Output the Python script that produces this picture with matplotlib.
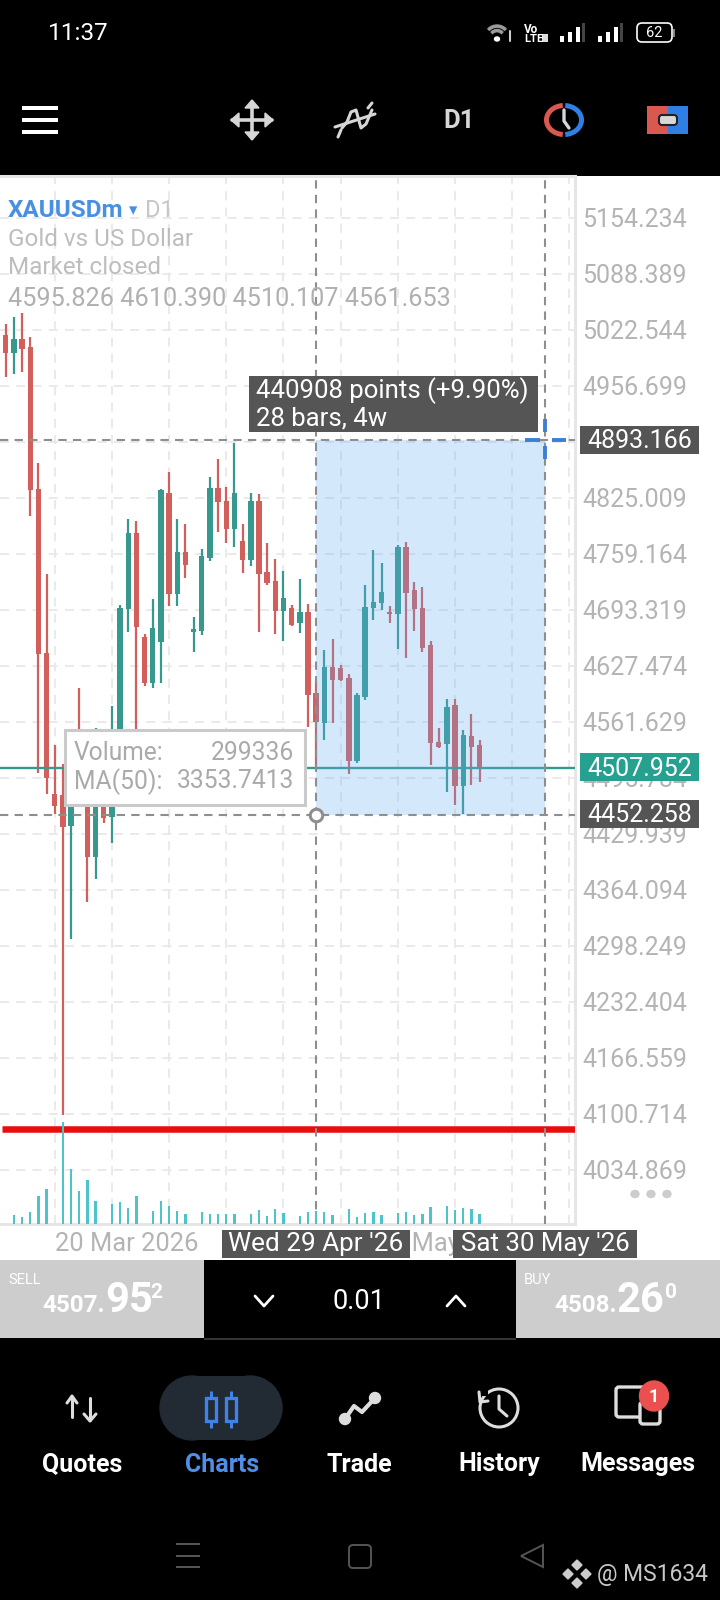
import matplotlib
matplotlib.use('Agg')
import matplotlib.pyplot as plt
from matplotlib.patches import Rectangle, Ellipse, Wedge, Polygon, FancyBboxPatch, Arc
import numpy as np

plt.rcParams['font.family'] = ['Roboto', 'DejaVu Sans']

# candles, oldest first
opens = [5016.6, 4995.4, 5011.9, 5002.6, 4835.6, 4642.8, 4476.9, 4476.0, 4439.3, 4516.9,
         4505.2, 4402.9, 4481.6, 4449.9, 4516.9, 4694.5, 4783.9, 4661.6, 4607.5, 4655.7,
         4830.8, 4712.0, 4761.5, 4667.5, 4669.1, 4754.5, 4836.8, 4821.5, 4788.6, 4774.5,
         4752.1, 4821.5, 4738.0, 4727.4, 4692.2, 4695.7, 4678.0, 4691.0, 4595.826, 4560.5,
         4626.3, 4625.1, 4613.4, 4515.8, 4591.0, 4695.7, 4701.6, 4691.0, 4688.6, 4767.4,
         4716.9, 4695.7, 4652.2, 4538.1, 4535.7, 4581.6, 4486.4, 4545.2, 4534.6]
highs = [5029.5, 5037.8, 5042.5, 5014.2, 4866.2, 4735.5, 4534.5, 4512.0, 4505.0, 4601.6,
         4528.7, 4554.6, 4505.2, 4580.4, 4699.2, 4800.4, 4798.0, 4665.1, 4706.3, 4835.6,
         4855.6, 4800.4, 4794.5, 4685.1, 4765.1, 4849.7, 4870.9, 4838.0, 4889.6, 4794.5,
         4830.9, 4829.8, 4772.1, 4753.3, 4739.2, 4699.2, 4729.6, 4700.4, 4610.390, 4646.3,
         4659.2, 4628.6, 4618.1, 4595.7, 4722.7, 4763.9, 4748.6, 4698.0, 4769.8, 4773.3,
         4726.3, 4719.8, 4656.9, 4554.6, 4588.7, 4588.7, 4552.2, 4571.0, 4540.5]
lows = [4967.1, 4970.6, 4973.0, 4803.8, 4501.7, 4476.9, 4453.4, 4099.6, 4306.5, 4469.9,
        4349.9, 4377.6, 4442.9, 4419.3, 4505.2, 4667.5, 4540.5, 4604.0, 4601.6, 4607.5,
        4698.0, 4698.0, 4730.8, 4644.0, 4664.0, 4751.0, 4785.0, 4772.1, 4767.4, 4736.8,
        4745.0, 4667.5, 4722.7, 4665.1, 4656.9, 4674.5, 4666.3, 4555.8, 4510.107, 4540.5,
        4560.5, 4609.8, 4500.5, 4513.4, 4587.5, 4681.6, 4693.3, 4678.0, 4647.5, 4636.9,
        4668.7, 4644.0, 4511.0, 4531.0, 4479.3, 4464.0, 4453.4, 4487.5, 4491.0]
closes = [4995.4, 5011.9, 5000.2, 4834.4, 4641.6, 4495.8, 4462.8, 4438.1, 4481.6, 4481.6,
          4402.9, 4481.6, 4448.7, 4505.2, 4695.7, 4783.9, 4673.4, 4607.5, 4672.2, 4834.4,
          4712.0, 4761.5, 4746.3, 4671.0, 4757.0, 4836.8, 4820.3, 4788.6, 4830.9, 4752.1,
          4821.5, 4735.6, 4725.0, 4692.2, 4707.5, 4675.7, 4691.0, 4593.4, 4561.653, 4626.3,
          4611.0, 4611.0, 4515.8, 4593.4, 4696.9, 4702.7, 4714.5, 4688.6, 4767.4, 4713.3,
          4694.5, 4648.7, 4536.9, 4532.2, 4579.3, 4486.4, 4546.3, 4532.2, 4507.952]
# tick volume, in thousands
volumes = [0, 26, 20, 35, 82, 103, 0, 299, 161, 97,
           129, 68, 0, 59, 65, 47, 82, 0, 38, 68,
           53, 38, 29, 0, 35, 29, 29, 29, 29, 0,
           29, 41, 23, 44, 32, 0, 23, 35, 38, 35,
           26, 0, 44, 21, 32, 35, 26, 0, 32, 35,
           26, 29, 50, 0, 53, 41, 47, 44, 29]

price_ticks = [5154.234, 5088.389, 5022.544, 4956.699, 4890.854, 4825.009, 4759.164, 4693.319, 4627.474,
               4561.629, 4495.784, 4429.939, 4364.094, 4298.249, 4232.404, 4166.559, 4100.714, 4034.869]
time_grid = [6, 13, 20, 27, 34, 41, 48, 55, 62, 69]
time_labels = [(6, '20 Mar 2026'), (47.2, '8 May 2026')]

bid = 4507.952
cross_high = 4893.166
cross_low = 4452.258
cross_start = 38
cross_end = 66
red_level = 4083.1

RED = '#d25f5c'
TEAL = '#37998d'
GREY = '#b4b4b4'
BOX = '#555555'
W, H = 720, 1600

fig = plt.figure(figsize=(7.2, 16), dpi=100, facecolor='black')


def px_axes(left, top, right, bottom, **kw):
    return fig.add_axes([left / W, 1 - bottom / H, (right - left) / W, (bottom - top) / H], **kw)


# white chart panel with its price column
panel = px_axes(0, 176, 720, 1260, zorder=0)
panel.set_axis_off()
panel.add_patch(Rectangle((0, 0), 1, 1, transform=panel.transAxes, color='white'))

ax = px_axes(0, 176, 575, 1224, zorder=1)
ax.patch.set_alpha(0)
ax.set_xlim(-0.698, 69.68)
ax.set_ylim(5410.56 - 1.17581 * 1224, 5410.56 - 1.17581 * 176)

# volume histogram shares the same x
vol = ax.twinx()
vol.set_ylim(0, 299 * 1048 / 102)
vol.set_axis_off()
x = np.arange(len(volumes))
vol.bar(x, volumes, width=0.28, color='#4cc3cd', zorder=2)

for s in ax.spines.values():
    s.set_visible(False)
for s in ['right', 'bottom', 'top']:
    ax.spines[s].set_visible(True)
    ax.spines[s].set_color('#e6e6e6')
    ax.spines[s].set_linewidth(2.2)
ax.yaxis.tick_right()
ax.set_yticks(price_ticks)
ax.set_yticklabels(['%.3f' % v for v in price_ticks], fontsize=18, color=GREY)
ax.tick_params(axis='y', length=0, pad=5.5)
ax.set_xticks(time_grid)
ax.set_xticklabels([])
ax.tick_params(axis='x', length=0)
ax.grid(True, color='#e8e8e8', lw=1.3, ls=(0, (5, 4)))
ax.set_axisbelow(True)
for t, s in time_labels:
    ax.text(t, -20 / 1048, s, transform=ax.get_xaxis_transform(), fontsize=18.4, color=GREY, ha='left', va='center')

x = np.arange(len(opens))
colors = [RED if c < o else TEAL for o, c in zip(opens, closes)]
ax.vlines(x, lows, highs, colors=colors, lw=1.6, zorder=3)
for i in x:
    top = max(opens[i], closes[i])
    bottom = min(opens[i], closes[i])
    ax.bar(i, top - bottom, bottom=bottom, width=0.66, color=colors[i], zorder=3)

ax.axhline(bid, color=TEAL, lw=1.7, zorder=4)
ax.axhline(red_level, color='#e80e0e', lw=4.7, zorder=5, xmin=0.003, solid_capstyle='butt')

# measure tool on top of the candles
ax.fill_between([cross_start, cross_end], cross_low, cross_high, color='#62acf2', alpha=0.27, lw=0, zorder=6)
ax.axhline(cross_high, color='#8e8e8e', lw=1.5, ls=(0, (4, 3)), zorder=7)
ax.axhline(cross_low, color='#8e8e8e', lw=1.5, ls=(0, (4, 3)), zorder=7)
ax.axvline(cross_start, color='#8e8e8e', lw=1.5, ls=(0, (4, 3)), zorder=7)
ax.axvline(cross_end, color='#8e8e8e', lw=1.5, ls=(0, (4, 3)), zorder=7)
ax.plot([cross_start], [cross_low], 'o', ms=9, mfc='white', mec='#8e8e8e', mew=2.2, zorder=8)

# everything else is screen furniture, in pixels
ui = px_axes(0, 0, W, H, zorder=5)
ui.set_xlim(0, W)
ui.set_ylim(H, 0)
ui.set_axis_off()
ui.patch.set_alpha(0)


def text(tx, ty, s, size=17.6, color=GREY, ha='left', va='center', weight='normal', **kw):
    if va == 'center':
        ty = ty + 1.5
    return ui.text(tx, ty, s, fontsize=size, color=color, ha=ha, va=va, fontweight=weight, **kw)


def rect(l, t, r, b, color, z=1, **kw):
    ui.add_patch(Rectangle((l, t), r - l, b - t, facecolor=color, edgecolor=kw.pop('ec', 'none'), zorder=z, **kw))


def stroke(xs, ys, color='white', lw=2, **kw):
    ui.plot(xs, ys, color=color, lw=lw, solid_capstyle=kw.pop('cap', 'round'), **kw)


# status bar
text(48, 32, '11:37', size=17.5, color='white')
for r in [13, 8.5]:
    ui.add_patch(Wedge((497, 38), r, 225, 315, width=2.2, color='#9a9a9a'))
ui.add_patch(Ellipse((497, 39), 5, 4, color='white'))
stroke([510, 510], [31, 41], color='#cccccc', lw=1.5)
text(524, 28, 'Vo', size=8.5, color='white', weight='bold')
text(524, 37, 'LTE', size=8, color='white', weight='bold')
rect(542, 34, 548, 42, '#dddddd')
for base in [560, 598]:
    for k, h in enumerate([6, 10, 15]):
        rect(base + k * 8, 42 - h, base + k * 8 + 4, 42, 'white')
    rect(base + 22, 23, base + 25, 42, '#444444')
ui.add_patch(FancyBboxPatch((638, 24), 33, 17, boxstyle='round,pad=1,rounding_size=5', fc='none', ec='white', lw=1.2))
text(654.5, 31.5, '62', size=10.5, color='white', ha='center')
rect(673, 29, 675, 37, '#888888')

# toolbar
for y0 in [108, 120, 132]:
    rect(22, y0 - 2, 58, y0 + 2, 'white')
c = '#d6d6d6'
stroke([232, 272], [120, 120], color=c, lw=2.6)
stroke([252, 252], [102, 138], color=c, lw=2.6)
ui.add_patch(Polygon([[252, 100], [245, 108], [259, 108]], color=c))
ui.add_patch(Polygon([[252, 140], [245, 132], [259, 132]], color=c))
ui.add_patch(Polygon([[231, 120], [239, 113], [239, 127]], color=c))
ui.add_patch(Polygon([[273, 120], [265, 113], [265, 127]], color=c))
stroke([342, 347, 351, 356, 361, 366, 372], [128, 122, 112, 110, 128, 124, 110], color=c, lw=2.2)
stroke([335, 375], [127, 114], color=c, lw=2.2)
stroke([338, 341], [137, 130], color=c, lw=2.2)
stroke([368, 372], [108, 103], color=c, lw=2.2)
text(459, 119, 'D1', size=18.5, color=c, ha='center', weight='bold')
ui.add_patch(Arc((564, 120), 35, 29, theta1=95, theta2=265, ec='#d9584f', lw=3.6))
ui.add_patch(Arc((564, 120), 35, 29, theta1=-85, theta2=85, ec='#2f7fe6', lw=3.6))
stroke([564, 564, 569], [110, 121, 128], color=c, lw=2.4, zorder=3)
rect(647, 106, 668, 134, '#d9584f', z=2)
rect(668, 106, 688, 134, '#2f7fe6', z=2)
ui.add_patch(FancyBboxPatch((660, 116), 16, 8, boxstyle='round,pad=1,rounding_size=3', fc='#d8d8d8', ec='#222222', lw=1.5, zorder=3))

# chart legend
text(8, 209, 'XAUUSDm', size=17.5, color='#4a90e2', weight='bold')
text(129, 209, '▾', size=12, color='#4a90e2', family=['DejaVu Sans'])
text(145, 209, 'D1', size=17, color='#c6c6c6')
text(8, 238, 'Gold vs US Dollar', size=17.5, color='#bdbdbd')
text(8, 266, 'Market closed', size=17.5, color='#bdbdbd')
text(8, 297, '%.3f %.3f %.3f %.3f' % (opens[38], highs[38], lows[38], closes[38]), size=18.2, color='#b0b0b0')

# measure info box
rect(249, 376, 538, 432, BOX, z=3)
text(256, 389, '440908 points (+9.90%)', size=18.5, color='white', zorder=4)
text(256, 417, '28 bars, 4w', size=18.5, color='white', zorder=4)

# blue cross at the end of the measure
for xs, ys in [([525, 540], [440, 440]), ([552, 566], [440, 440]), ([545, 545], [419, 432]), ([545, 545], [446, 459])]:
    stroke(xs, ys, color='#3d7fd4', lw=2.8, cap='butt', zorder=4)

# indicator tooltip
rect(64.5, 729.5, 304.5, 804.5, 'white', z=6, ec='#cacaca', lw=2.2)
text(74, 751, 'Volume:', color='#aaaaaa', size=17.7, zorder=7)
text(294, 751, '299336', color='#aaaaaa', size=17.7, ha='right', zorder=7)
text(74, 780, 'MA(50):', color='#aaaaaa', size=17.7, zorder=7)
text(294, 780, '3353.7413', color='#aaaaaa', size=17.7, ha='right', zorder=7)

# price flags
for y0, s, fc in [(440, '%.3f' % cross_high, BOX), (767, '%.3f' % bid, '#26a08f'), (814, '%.3f' % cross_low, BOX)]:
    rect(580, y0 - 14, 699, y0 + 14, fc, z=3)
    text(639.5, y0, s, size=18, color='white', ha='center', zorder=4)

# time flags
rect(222, 1230, 410, 1258, BOX, z=3)
text(316, 1243, "Wed 29 Apr '26", size=18.8, color='white', ha='center', zorder=4)
rect(453, 1230, 637, 1258, BOX, z=3)
text(545, 1243, "Sat 30 May '26", size=18.6, color='white', ha='center', zorder=4)

# ... dots
for dx in [635, 651, 667]:
    ui.add_patch(Ellipse((dx, 1194), 8, 7, color='#cccccc'))

# sell / buy strip
rect(0, 1260, 204, 1338, '#cdcdcd')
rect(516, 1260, 720, 1338, '#cdcdcd')
rect(204, 1338, 516, 1340, '#333333')
text(8, 1278, 'SELL', size=10.5, color='white')
text(105, 1312, '4507.', size=17.5, color='white', ha='right', va='baseline', weight='bold')
text(105, 1312, '95', size=30, color='white', va='baseline', weight='bold')
text(150, 1298, '2', size=15, color='white', va='baseline', weight='bold')
text(524, 1278, 'BUY', size=10.5, color='white')
text(617, 1312, '4508.', size=17.5, color='white', ha='right', va='baseline', weight='bold')
text(617, 1312, '26', size=30, color='white', va='baseline', weight='bold')
text(665, 1298, '0', size=15, color='white', va='baseline', weight='bold')
text(359, 1300, '0.01', size=19.5, color='white', ha='center')
stroke([255, 264, 273], [1296, 1306, 1296], lw=2)
stroke([447, 456, 465], [1306, 1296, 1306], lw=2)

# bottom tabs
rect(192, 1376, 250, 1440, '#222a33')
ui.add_patch(Ellipse((192, 1408), 64, 64, color='#222a33'))
ui.add_patch(Ellipse((250, 1408), 64, 64, color='#222a33'))
labels = [(82, 'Quotes', 'white'), (222, 'Charts', '#4f8fe6'), (359.5, 'Trade', 'white'), (499, 'History', 'white'), (638, 'Messages', 'white')]
for tx, s, col in labels:
    text(tx, 1463, s, size=18, color=col, ha='center', weight='bold')

c = '#dddddd'
stroke([72, 72], [1397, 1417], color=c, lw=2.2)
stroke([67, 72, 77], [1403, 1396, 1403], color=c, lw=2.2)
stroke([90, 90], [1398, 1420], color=c, lw=2.2)
stroke([84, 90, 96], [1414, 1421, 1414], color=c, lw=2.2)
blue = '#3f82e8'
for cx in [211, 231]:
    stroke([cx, cx], [1391, 1428], color=blue, lw=2.2, cap='butt')
    ui.add_patch(Rectangle((cx - 5, 1398), 10, 23, fc='#222a33', ec=blue, lw=2.4, zorder=3))
stroke([345, 354, 362, 375], [1419, 1406, 1412, 1398], color=c, lw=3)
ui.add_patch(Ellipse((345, 1419), 11, 11, color=c))
ui.add_patch(Ellipse((375, 1398), 11, 11, color=c))
ui.add_patch(Ellipse((499, 1408), 38, 38, fc='none', ec=c, lw=2.2))
rect(478, 1386, 488, 1396, 'black', z=2)
stroke([499, 499, 507], [1396, 1409, 1416], color=c, lw=2.2, zorder=3)
stroke([479, 480, 488], [1392, 1402, 1401], color=c, lw=2.2, zorder=3)
ui.add_patch(FancyBboxPatch((616, 1387), 34, 30, boxstyle='round,pad=0,rounding_size=3', fc='none', ec=c, lw=2.4))
ui.add_patch(FancyBboxPatch((640, 1402), 20, 22, boxstyle='round,pad=0,rounding_size=3', fc='black', ec=c, lw=2.4, zorder=2))
ui.add_patch(Ellipse((654, 1396), 29, 30, color='#ec4f4f', zorder=3))
text(654, 1395, '1', size=13, color='white', ha='center', weight='bold', zorder=4)

# android nav bar, watermark
for y0 in [1544, 1555.5, 1567]:
    rect(176, y0 - 1, 200, y0 + 1, '#555555')
ui.add_patch(FancyBboxPatch((349, 1545), 22, 23, boxstyle='round,pad=0,rounding_size=4', fc='none', ec='#555555', lw=1.4))
ui.add_patch(Polygon([[543, 1545], [543, 1567], [521, 1556]], closed=True, fc='none', ec='#555555', lw=1.4))
for dx, dy, s in [(0, -9, 5), (-9, 0, 5), (9, 0, 5), (0, 9, 5)]:
    ui.add_patch(Polygon([[577 + dx, 1574 + dy - s], [577 + dx + s, 1574 + dy], [577 + dx, 1574 + dy + s], [577 + dx - s, 1574 + dy]], color='#cccccc'))
text(597, 1573, '@ MS1634', size=16.5, color='#c8c8c8')

fig.savefig('out.png', dpi=100, facecolor='black')
